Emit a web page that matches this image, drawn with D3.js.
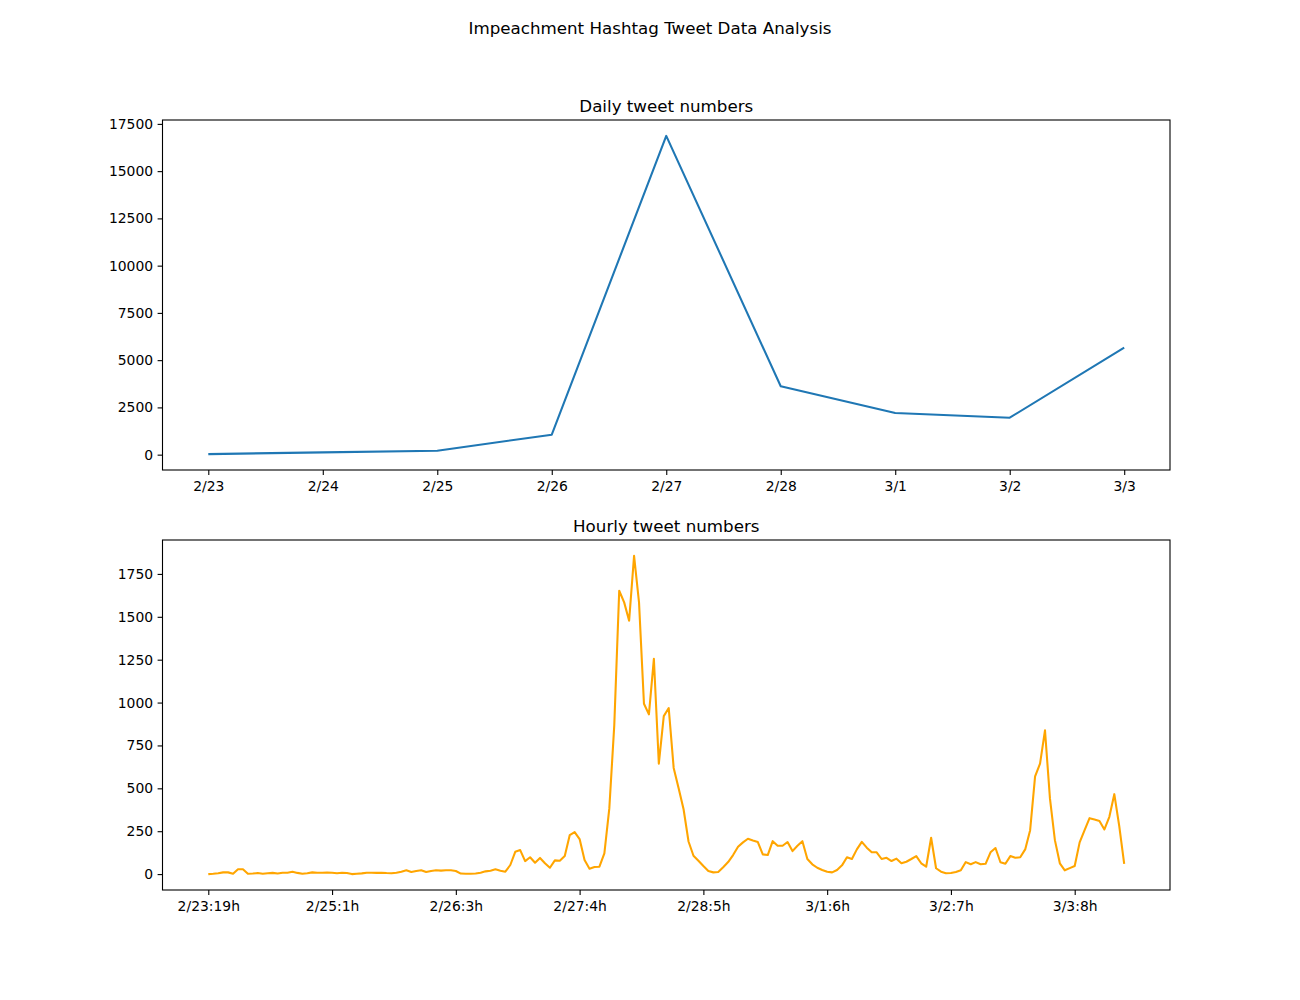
<!DOCTYPE html>
<html>
<head>
<meta charset="utf-8">
<script src="https://cdn.jsdelivr.net/npm/d3@7"></script>
<style>
    body { margin: 0; background: #fff; }
    #chart-area { width: 1300px; height: 1000px; }
    text { font-family: "DejaVu Sans", sans-serif; fill: #000; }
    .tick text { font-size: 13.9px; }
    .tick line { stroke: #000; stroke-width: 1.1px; }
    .frame { fill: none; stroke: #000; stroke-width: 1.1px; }
    .chart-title { font-size: 16.7px; text-anchor: middle; }
</style>
</head>
<body>
<div id="chart-area"></div>
<script>
// 1. Data
const dayLabels = ["2/23", "2/24", "2/25", "2/26", "2/27", "2/28", "3/1", "3/2", "3/3"];
const dailyCounts = [30, 120, 211, 1057, 16864, 3620, 2200, 1956, 5657];

// hourly counts, one per hour with data (index based x axis)
const hourlyCounts = [
    0, 2, 5, 10, 10, 2, 28, 28, 2, 3,
    6, 2, 5, 7, 3, 8, 8, 14, 7, 2,
    5, 10, 8, 8, 9, 8, 5, 8, 6, 0,
    2, 4, 8, 8, 7, 8, 6, 5, 8, 14,
    22, 12, 18, 22, 12, 18, 22, 20, 22, 22,
    18, 3, 2, 2, 3, 8, 16, 20, 28, 20,
    14, 53, 130, 140, 76, 98, 66, 94, 63, 37,
    80, 78, 105, 227, 245, 204, 82, 31, 41, 43,
    121, 383, 867, 1652, 1584, 1477, 1855, 1584, 993, 931,
    1255, 644, 921, 968, 619, 500, 378, 190, 107, 78,
    47, 18, 10, 12, 40, 70, 111, 159, 185, 206,
    196, 187, 115, 111, 192, 165, 165, 187, 134, 165,
    192, 88, 57, 37, 24, 14, 10, 24, 51, 98,
    88, 144, 188, 154, 127, 127, 88, 95, 76, 90,
    63, 72, 88, 105, 63, 43, 212, 34, 14, 5,
    6, 12, 22, 70, 57, 70, 57, 60, 127, 152,
    69, 60, 105, 95, 98, 144, 256, 570, 644, 838,
    441, 198, 63, 22, 35, 47, 185, 256, 326, 318,
    310, 260, 334, 466, 280, 59
];
const hourTickIndex = [0, 25, 50, 75, 100, 125, 150, 175];
const hourTickLabels = ["2/23:19h", "2/25:1h", "2/26:3h", "2/27:4h", "2/28:5h", "3/1:6h", "3/2:7h", "3/3:8h"];

// 2. Setup Dimensions (matplotlib default subplot layout)
const width = 1300;
const height = 1000;
const plotLeft = 162.5;
const plotWidth = 1007.5;
const plotHeight = 350;
const panelTops = [120, 540];

const svg = d3.select("#chart-area")
    .append("svg")
    .attr("width", width)
    .attr("height", height);

svg.append("text")
    .attr("class", "chart-title")
    .attr("x", width / 2)
    .attr("y", 34)
    .text("Impeachment Hashtag Tweet Data Analysis");

// padded domain like matplotlib autoscale (5% margins)
function padded(lo, hi) {
    const r = hi - lo;
    return [lo - r * 0.05, hi + r * 0.05];
}

function drawPanel(top, title, values, color, tickIdx, tickLabels, yStep) {
    const g = svg.append("g")
        .attr("transform", `translate(${plotLeft},${top})`);

    const xScale = d3.scaleLinear()
        .domain(padded(0, values.length - 1))
        .range([0, plotWidth]);

    const yScale = d3.scaleLinear()
        .domain(padded(d3.min(values), d3.max(values)))
        .range([plotHeight, 0]);

    const xAxis = d3.axisBottom(xScale)
        .tickValues(tickIdx)
        .tickFormat((d, i) => tickLabels[i])
        .tickSize(4.9)
        .tickPadding(6.5)
        .tickSizeOuter(0);

    const yTicks = d3.range(0, yScale.domain()[1], yStep);
    const yAxis = d3.axisLeft(yScale)
        .tickValues(yTicks)
        .tickFormat(d3.format("d"))
        .tickSize(4.9)
        .tickPadding(4.5)
        .tickSizeOuter(0);

    g.append("g")
        .attr("transform", `translate(0,${plotHeight})`)
        .call(xAxis)
        .call(a => a.select(".domain").remove())
        .selectAll("text")
        .attr("fill", "#000");

    g.append("g")
        .call(yAxis)
        .call(a => a.select(".domain").remove())
        .selectAll("text")
        .attr("fill", "#000");

    const line = d3.line()
        .x((d, i) => xScale(i))
        .y(d => yScale(d));

    g.append("path")
        .datum(values)
        .attr("fill", "none")
        .attr("stroke", color)
        .attr("stroke-width", 2.08)
        .attr("stroke-linejoin", "round")
        .attr("d", line);

    g.append("rect")
        .attr("class", "frame")
        .attr("width", plotWidth)
        .attr("height", plotHeight);

    g.append("text")
        .attr("class", "chart-title")
        .attr("x", plotWidth / 2)
        .attr("y", -8.3)
        .text(title);
}

// 3. Draw panels
drawPanel(panelTops[0], "Daily tweet numbers", dailyCounts, "#1f77b4",
    d3.range(dayLabels.length), dayLabels, 2500);
drawPanel(panelTops[1], "Hourly tweet numbers", hourlyCounts, "orange",
    hourTickIndex, hourTickLabels, 250);
</script>
</body>
</html>
